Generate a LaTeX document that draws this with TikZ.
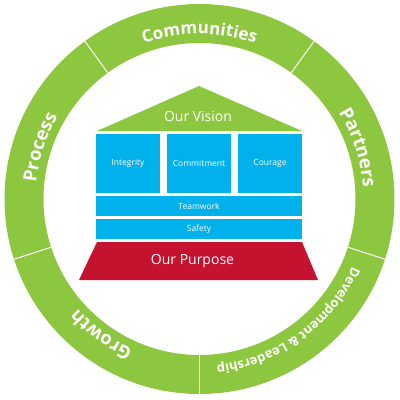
\documentclass[tikz,border=0pt]{standalone}
\usepackage{fontspec}
\setmainfont{Open Sans}
\setsansfont{Open Sans}
\usetikzlibrary{decorations.text}
\definecolor{ringgreen}{HTML}{8DC63F}
\definecolor{pillarblue}{HTML}{00B1EB}
\definecolor{purposered}{HTML}{C4122F}
\newcommand\ringfontA{\sffamily\bfseries\fontsize{17}{20}\selectfont}
\newcommand\ringfontB{\sffamily\bfseries\fontsize{18.5}{22}\selectfont}
\newcommand\ringfontC{\sffamily\bfseries\fontsize{13}{15}\selectfont}
\tikzset{
  pillar/.style={fill=pillarblue, draw=none, inner sep=0pt, text=white,
    font=\sffamily\fontsize{8.5}{10}\selectfont},
  divider/.style={draw=white, line width=1pt},
  ringtext/.style={decorate, decoration={text along path, text align=center, text color=white}}
}
\begin{document}
\begin{tikzpicture}[x=1pt,y=1pt]
\useasboundingbox (-199.5,-201) rectangle (200.5,199);
% ring
\fill[ringgreen, even odd rule] (0,0) circle[radius=195] (0,0) circle[radius=156];
\foreach \a in {54,126,198,270,342}
  \draw[divider] (\a:156) -- (\a:195.5);
% ring labels (clockwise, tops outward)
\path[ringtext, decoration={text={|\ringfontA|Communities}}]
  (126:165) arc[start angle=126, end angle=54, radius=165];
\path[ringtext, decoration={text={|\ringfontB|Partners}}]
  (54:164) arc[start angle=54, end angle=-18, radius=164];
\path[ringtext, decoration={text={|\ringfontC|Development {\&} Leadership}}]
  (-18:167) arc[start angle=-18, end angle=-90, radius=167];
\path[ringtext, decoration={text={|\ringfontB|Growth}}]
  (-88:164) arc[start angle=-88, end angle=-164, radius=164];
\path[ringtext, decoration={text={|\ringfontB|Process}}]
  (198:164) arc[start angle=198, end angle=126, radius=164];
% roof
\coordinate (roofL) at (-102.5,68);
\coordinate (roofR) at (102.5,68);
\coordinate (roofT) at (-0.5,113);
\fill[ringgreen] (roofL) -- (roofT) -- (roofR) -- cycle;
\node[text=white, font=\sffamily\fontsize{14}{16}\selectfont] (vision) at (-1.5,83) {Our Vision};
% pillars
\node[pillar, minimum width=64pt, minimum height=59pt] (integrity) at (-71.5,35.5) {Integrity};
\node[pillar, minimum width=64pt, minimum height=59pt] (commitment) at (-0.5,35.5) {Commitment};
\node[pillar, minimum width=64pt, minimum height=59pt] (courage) at (70.5,35.5) {Courage};
\node[pillar, minimum width=206pt, minimum height=20pt] (teamwork) at (-0.5,-7) {Teamwork};
\node[pillar, minimum width=206pt, minimum height=20pt] (safety) at (-0.5,-30) {Safety};
% base
\coordinate (baseTL) at (-102.5,-43);
\coordinate (baseTR) at (102.5,-43);
\coordinate (baseBR) at (118.5,-81);
\coordinate (baseBL) at (-120.5,-81);
\fill[purposered] (baseTL) -- (baseTR) -- (baseBR) -- (baseBL) -- cycle;
\node[text=white, font=\sffamily\fontsize{14}{16}\selectfont] (purpose) at (-7,-62) {Our Purpose};
\end{tikzpicture}
\end{document}
